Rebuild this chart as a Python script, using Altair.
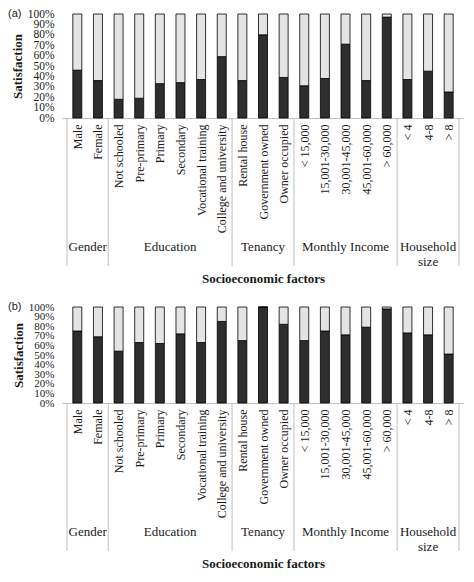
import json
import altair as alt
import pandas as pd

categories = ["Male", "Female", "Not schooled", "Pre-primary", "Primary", "Secondary",
              "Vocational training", "College and university", "Rental house",
              "Government owned", "Owner occupied", "< 15,000", "15,001-30,000",
              "30,001-45,000", "45,001-60,000", "> 60,000", "< 4", "4-8", "> 8"]
groups = ["Gender", "Education", "Tenancy", "Monthly Income", "Household\nsize"]
group_sizes = [2, 6, 3, 5, 3]
satisfied_a = [46, 36, 18, 19, 33, 34, 37, 59, 36, 80, 39, 31, 38, 71, 36, 97, 37, 45, 25]
satisfied_b = [75, 69, 54, 63, 62, 72, 63, 85, 65, 100, 82, 65, 75, 71, 79, 98, 73, 71, 51]
levels = ["Satisfied", "Not satisfied"]
y_ticks = [i / 10 for i in range(11)]

SERIF = "Liberation Serif"
W = 402
n = len(categories)
label_expr = json.dumps(categories) + "[datum.value]"

# group boundaries and centres derived from the group sizes
bounds = [-0.5]
for s in group_sizes:
    bounds.append(bounds[-1] + s)
centres = [(bounds[i] + bounds[i + 1]) / 2 for i in range(len(groups))]
bound_df = pd.DataFrame({"b": bounds})
group_df = pd.DataFrame({"g": groups, "c": centres})


def panel(values, tag, H, yfs):
    rows = []
    for i, (cat, v) in enumerate(zip(categories, values)):
        rows.append({"idx": i, "cat": cat, "level": levels[0], "y0": 0, "y1": v / 100})
        rows.append({"idx": i, "cat": cat, "level": levels[1], "y0": v / 100, "y1": 1})
    df = pd.DataFrame(rows)
    xscale = alt.Scale(domain=[-0.5, n - 0.5], nice=False, zero=False)
    x_axis = alt.Axis(values=list(range(n)), labelExpr=label_expr, labelAngle=270,
                      labelFont=SERIF, labelFontSize=12, labelColor="#1a1a1a",
                      labelPadding=6, labelOverlap=False, labelFlush=False,
                      labelBound=False, ticks=False, grid=False,
                      domainColor="#bfbfbf", domainWidth=1,
                      title="Socioeconomic factors", titleFont=SERIF,
                      titleFontSize=13, titleFontWeight="bold", titleColor="#1a1a1a",
                      titleY=154)

    bars = alt.Chart(df).mark_bar(size=9, stroke="black", strokeWidth=0.8).encode(
        x=alt.X("idx:Q", scale=xscale, axis=x_axis),
        y=alt.Y("y0:Q", scale=alt.Scale(domain=[0, 1], nice=False),
                axis=alt.Axis(values=y_ticks, format=".0%", domain=False, ticks=False,
                              grid=False, labelFont=SERIF, labelFontSize=yfs,
                              labelColor="#1a1a1a", labelPadding=8, labelOverlap=False,
                              labelFlush=False, labelBound=False,
                              title="Satisfaction", titleFont=SERIF, titleFontSize=13,
                              titleFontWeight="bold", titleColor="#1a1a1a",
                              titlePadding=3)),
        y2="y1:Q",
        color=alt.Color("level:N", scale=alt.Scale(domain=levels, range=["#2e2e2e", "#e4e4e4"]),
                        legend=None),
    )

    seps = alt.Chart(bound_df).mark_rule(color="#bfbfbf", strokeWidth=1).encode(
        x=alt.X("b:Q", scale=xscale, axis=x_axis),
        y=alt.value(H),
        y2=alt.value(H + 148),
    )

    glabels = alt.Chart(group_df).mark_text(font=SERIF, fontSize=13, color="#1a1a1a",
                                            lineBreak="\n", baseline="middle",
                                            align="center").encode(
        x=alt.X("c:Q", scale=xscale, axis=x_axis),
        y=alt.value(H + 129),
        text="g:N",
    )

    tag_txt = alt.Chart(pd.DataFrame({"t": [tag]})).mark_text(
        font="Liberation Sans", fontSize=11, color="#1a1a1a", align="left",
        baseline="middle").encode(
        x=alt.value(-54), y=alt.value(0), text="t:N")

    return alt.layer(bars, seps, glabels, tag_txt).properties(width=W, height=H)


top = panel(satisfied_a, "(a)", 104, 11.5)
bottom = panel(satisfied_b, "(b)", 96, 11)

chart = alt.vconcat(top, bottom, spacing=16).properties(
    padding={"left": 0, "top": 0, "right": 0, "bottom": 0},
    background="white",
).configure_view(stroke=None)

chart.save("out.html", embed_options={"renderer": "svg", "actions": False})
